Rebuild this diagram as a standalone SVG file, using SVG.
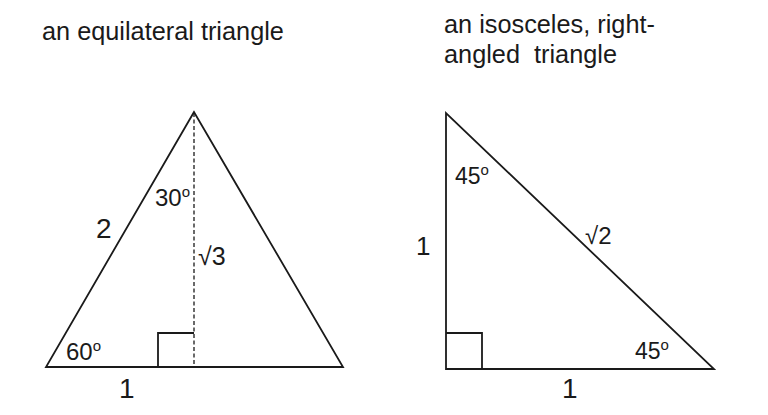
<svg xmlns="http://www.w3.org/2000/svg" width="768" height="415" viewBox="0 0 768 415">
<style>
.t{font-family:"Liberation Sans",Arial,sans-serif;fill:#1a1a1a}
.ln{fill:none;stroke:#1a1a1a;stroke-width:1.8;stroke-linejoin:miter}
.dash{stroke:#1a1a1a;stroke-width:1.3;stroke-dasharray:4 2.5}
.sup{font-size:15px}
</style>
<rect width="768" height="415" fill="#ffffff"/>
<g id="title-left"><text class="t" x="42" y="40" font-size="25.3">an equilateral triangle</text></g>
<g id="title-right">
<text class="t" x="444" y="33" font-size="25.3">an isosceles, right-</text>
<text class="t" x="444" y="63" font-size="25.3" xml:space="preserve">angled  triangle</text>
</g>
<g id="equilateral">
<polygon class="ln" points="194,112 46,367 343,367"/>
<line class="dash" x1="194" y1="113" x2="194" y2="367"/>
<polyline class="ln" points="158,367 158,333 194,333"/>
<text class="t" x="155" y="206" font-size="24">30<tspan class="sup" dy="-9">o</tspan></text>
<text class="t" x="96" y="238" font-size="28">2</text>
<text class="t" x="198" y="265" font-size="25">√3</text>
<text class="t" x="66" y="360" font-size="24">60<tspan class="sup" dy="-9">o</tspan></text>
<text class="t" x="119" y="398" font-size="28">1</text>
</g>
<g id="right-isosceles">
<polygon class="ln" points="446,113 446,369 714,369"/>
<polyline class="ln" points="446,333 482,333 482,369"/>
<text class="t" x="455" y="184" font-size="23">45<tspan class="sup" dy="-9">o</tspan></text>
<text class="t" x="416" y="255" font-size="26">1</text>
<text class="t" x="585" y="244" font-size="24">√2</text>
<text class="t" x="635" y="359" font-size="23">45<tspan class="sup" dy="-9">o</tspan></text>
<text class="t" x="562" y="398" font-size="28">1</text>
</g>
</svg>
